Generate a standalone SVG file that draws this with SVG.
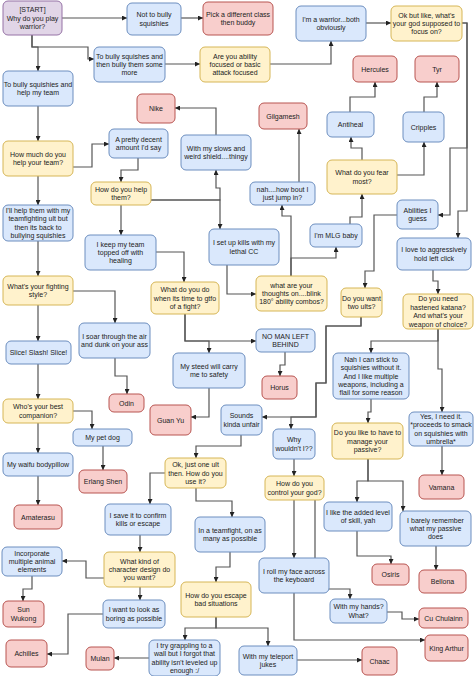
<svg xmlns="http://www.w3.org/2000/svg" width="474" height="676" viewBox="0 0 474 676">
<style>
rect{stroke-width:1}
.p{fill:#e1d5e7;stroke:#9673a6}
.b{fill:#dae8fc;stroke:#6c8ebf}
.y{fill:#fff2cc;stroke:#d6b656}
.r{fill:#f8cecc;stroke:#b85450}
text{font-family:"Liberation Sans",Arial,sans-serif;font-size:7px;fill:#222;text-anchor:middle}
#connectors polyline{fill:none;stroke:#555;stroke-width:1.2;marker-end:url(#ah)}
</style>
<defs>
<marker id="ah" viewBox="0 0 6 6" refX="6" refY="3" markerWidth="5" markerHeight="5" markerUnits="userSpaceOnUse" orient="auto"><path d="M0,0 L6,3 L0,6 z" fill="#222"/></marker>
</defs>
<rect width="474" height="676" fill="#fff"/>
<g id="connectors">
<polyline points="62,18 127,18"/>
<polyline points="181,18 203,18"/>
<polyline points="32,35 32,47 38,47 38,71"/>
<polyline points="32,35 32,47 88,47 88,59 94,59"/>
<polyline points="165,64 200,64"/>
<polyline points="270,64 331,64 331,41"/>
<polyline points="366,23 391,23"/>
<polyline points="462,23 467,23 467,148 450,148 450,215 438,215"/>
<polyline points="462,23 467,23 467,211 458,211 458,238"/>
<polyline points="397,215 374,215 374,271 365,271 365,288"/>
<polyline points="350,224 350,217 362,217 362,194"/>
<polyline points="362,160 362,148 351,148 351,137"/>
<polyline points="397,175 424,175 424,142"/>
<polyline points="350,112 350,97 375,97 375,82"/>
<polyline points="424,112 424,97 437,97 437,82"/>
<polyline points="433,270 433,281 438,281 438,294"/>
<polyline points="438,329 438,341 371,341 371,353"/>
<polyline points="438,329 438,369 442,369 442,412"/>
<polyline points="442,446 442,475"/>
<polyline points="371,399 371,412 368,412 368,423"/>
<polyline points="368,459 368,481 357,481 357,502"/>
<polyline points="368,459 368,481 403,481 403,511"/>
<polyline points="357,531 357,556 391,556 391,564"/>
<polyline points="436,546 436,570"/>
<polyline points="361,317 361,326 326,326 326,383 316,383 316,417 262,417"/>
<polyline points="361,317 361,326 326,326 326,383 316,383 316,417 291,417 291,429"/>
<polyline points="241,435 241,446 196,446 196,458"/>
<polyline points="294,459 294,476"/>
<polyline points="165,473 150,473 150,504"/>
<polyline points="196,488 196,501 232,501 232,517"/>
<polyline points="140,535 140,552"/>
<polyline points="104,578 86,578 86,561 62,561"/>
<polyline points="140,587 140,600"/>
<polyline points="32,576 32,589 23,589 23,601"/>
<polyline points="103,614 68,614 68,654 47,654"/>
<polyline points="230,552 230,567 216,567 216,582"/>
<polyline points="216,617 216,628 185,628 185,640"/>
<polyline points="216,617 216,628 268,628 268,646"/>
<polyline points="149,658 114,658"/>
<polyline points="297,660 362,660"/>
<polyline points="294,500 294,558"/>
<polyline points="315,500 315,589 350,589 350,599"/>
<polyline points="294,593 294,640 425,640"/>
<polyline points="387,612 402,612 402,619 419,619"/>
<polyline points="38,106 38,141"/>
<polyline points="73,167 92,167 92,144 109,144"/>
<polyline points="38,176 38,205"/>
<polyline points="138,158 138,170 121,170 121,182"/>
<polyline points="121,205 121,235"/>
<polyline points="151,200 220,200 220,229"/>
<polyline points="151,200 220,200 220,188 216,188 216,170"/>
<polyline points="216,135 216,108 175,108"/>
<polyline points="156,252 184,252 184,282"/>
<polyline points="227,265 227,294 256,294"/>
<polyline points="185,314 185,341 256,341"/>
<polyline points="185,314 185,341 209,341 209,353"/>
<polyline points="285,352 285,365 280,365 280,376"/>
<polyline points="209,388 209,417 191,417"/>
<polyline points="73,291 115,291 115,323"/>
<polyline points="38,305 38,341"/>
<polyline points="38,241 38,276"/>
<polyline points="115,358 115,376 127,376 127,394"/>
<polyline points="38,364 38,399"/>
<polyline points="73,411 92,411 92,429"/>
<polyline points="38,423 38,453"/>
<polyline points="103,446 103,470"/>
<polyline points="38,476 38,505"/>
<polyline points="299,182 299,129"/>
<polyline points="291,276 291,216 282,216 282,205"/>
<polyline points="291,276 291,258 336,258 336,247"/>
</g>
<g id="n1"><rect class="p" x="3" y="1" width="59" height="34" rx="5"/><text><tspan x="32.5" y="12.1">[START]</tspan><tspan x="32.5" y="20.5">Why do you play</tspan><tspan x="32.5" y="28.9">warrior?</tspan></text></g>
<g id="n2"><rect class="b" x="127" y="3" width="54" height="32" rx="5"/><text><tspan x="154" y="17.3">Not to bully</tspan><tspan x="154" y="25.7">squishies</tspan></text></g>
<g id="n3"><rect class="r" x="203" y="2" width="70" height="33" rx="5"/><text><tspan x="238" y="16.8">Pick a different class</tspan><tspan x="238" y="25.2">then buddy</tspan></text></g>
<g id="n4"><rect class="b" x="296" y="6" width="70" height="35" rx="5"/><text><tspan x="331" y="21.8">I'm a warrior...both</tspan><tspan x="331" y="30.2">obviously</tspan></text></g>
<g id="n5"><rect class="y" x="391" y="6" width="71" height="35" rx="5"/><text><tspan x="426.5" y="17.6">Ok but like, what's</tspan><tspan x="426.5" y="26">your god supposed to</tspan><tspan x="426.5" y="34.4">focus on?</tspan></text></g>
<g id="n6"><rect class="b" x="94" y="47" width="71" height="35" rx="5"/><text><tspan x="129.5" y="58.6">To bully squishes and</tspan><tspan x="129.5" y="67">then bully them some</tspan><tspan x="129.5" y="75.4">more</tspan></text></g>
<g id="n7"><rect class="y" x="200" y="47" width="70" height="35" rx="5"/><text><tspan x="235" y="58.6">Are you ability</tspan><tspan x="235" y="67">focused or basic</tspan><tspan x="235" y="75.4">attack focused</tspan></text></g>
<g id="n8"><rect class="b" x="3" y="71" width="70" height="35" rx="5"/><text><tspan x="38" y="86.8">To bully squishies and</tspan><tspan x="38" y="95.2">help my team</tspan></text></g>
<g id="n9"><rect class="r" x="137" y="94" width="38" height="29" rx="5"/><text x="156" y="111">Nike</text></g>
<g id="n10"><rect class="r" x="259" y="103" width="48" height="26" rx="5"/><text x="283" y="118.5">Gilgamesh</text></g>
<g id="n11"><rect class="r" x="353" y="56" width="44" height="26" rx="5"/><text x="375" y="71.5">Hercules</text></g>
<g id="n12"><rect class="r" x="415" y="56" width="44" height="26" rx="5"/><text x="437" y="71.5">Tyr</text></g>
<g id="n13"><rect class="b" x="327" y="112" width="47" height="25" rx="5"/><text x="350.5" y="127">Antiheal</text></g>
<g id="n14"><rect class="b" x="403" y="112" width="41" height="30" rx="5"/><text x="423.5" y="129.5">Cripples</text></g>
<g id="n15"><rect class="b" x="109" y="129" width="59" height="29" rx="5"/><text><tspan x="138.5" y="141.8">A pretty decent</tspan><tspan x="138.5" y="150.2">amount I'd say</tspan></text></g>
<g id="n16"><rect class="b" x="181" y="135" width="70" height="35" rx="5"/><text><tspan x="216" y="150.8">With my slows and</tspan><tspan x="216" y="159.2">weird shield....thingy</tspan></text></g>
<g id="n17"><rect class="y" x="3" y="141" width="70" height="35" rx="5"/><text><tspan x="38" y="156.8">How much do you</tspan><tspan x="38" y="165.2">help your team?</tspan></text></g>
<g id="n18"><rect class="y" x="327" y="160" width="70" height="34" rx="5"/><text><tspan x="362" y="175.3">What do you fear</tspan><tspan x="362" y="183.7">most?</tspan></text></g>
<g id="n19"><rect class="y" x="91" y="182" width="60" height="23" rx="5"/><text><tspan x="121" y="191.8">How do you help</tspan><tspan x="121" y="200.2">them?</tspan></text></g>
<g id="n20"><rect class="b" x="250" y="182" width="65" height="23" rx="5"/><text><tspan x="282.5" y="191.8">nah....how bout I</tspan><tspan x="282.5" y="200.2">just jump in?</tspan></text></g>
<g id="n21"><rect class="b" x="397" y="200" width="41" height="29" rx="5"/><text><tspan x="417.5" y="212.8">Abilities I</tspan><tspan x="417.5" y="221.2">guess</tspan></text></g>
<g id="n22"><rect class="b" x="310" y="224" width="52" height="23" rx="5"/><text x="336" y="238">I'm MLG baby</text></g>
<g id="n23"><rect class="b" x="3" y="205" width="70" height="36" rx="5"/><text><tspan x="38" y="212.9">I'll help them with my</tspan><tspan x="38" y="221.3">teamfighting ult but</tspan><tspan x="38" y="229.7">then its back to</tspan><tspan x="38" y="238.1">bullying squishies</tspan></text></g>
<g id="n24"><rect class="b" x="85" y="235" width="71" height="35" rx="5"/><text><tspan x="120.5" y="246.6">I keep my team</tspan><tspan x="120.5" y="255">topped off with</tspan><tspan x="120.5" y="263.4">healing</tspan></text></g>
<g id="n25"><rect class="b" x="209" y="229" width="70" height="36" rx="5"/><text><tspan x="244" y="245.3">I set up kills with my</tspan><tspan x="244" y="253.7">lethal CC</tspan></text></g>
<g id="n26"><rect class="b" x="397" y="238" width="74" height="32" rx="5"/><text><tspan x="434" y="252.3">I love to aggressively</tspan><tspan x="434" y="260.7">hold left click</tspan></text></g>
<g id="n27"><rect class="y" x="3" y="276" width="70" height="29" rx="5"/><text><tspan x="38" y="288.8">What's your fighting</tspan><tspan x="38" y="297.2">style?</tspan></text></g>
<g id="n28"><rect class="y" x="151" y="282" width="68" height="32" rx="5"/><text><tspan x="185" y="292.1">What do you do</tspan><tspan x="185" y="300.5">when its time to gtfo</tspan><tspan x="185" y="308.9">of a fight?</tspan></text></g>
<g id="n29"><rect class="y" x="256" y="276" width="71" height="35" rx="5"/><text><tspan x="291.5" y="287.6">what are your</tspan><tspan x="291.5" y="296">thoughts on....blink</tspan><tspan x="291.5" y="304.4">180° ability combos?</tspan></text></g>
<g id="n30"><rect class="y" x="341" y="288" width="41" height="29" rx="5"/><text><tspan x="361.5" y="300.8">Do you want</tspan><tspan x="361.5" y="309.2">two ults?</tspan></text></g>
<g id="n31"><rect class="y" x="403" y="294" width="70" height="35" rx="5"/><text><tspan x="438" y="301.4">Do you need</tspan><tspan x="438" y="309.8">hastened katana?</tspan><tspan x="438" y="318.2">And what's your</tspan><tspan x="438" y="326.6">weapon of choice?</tspan></text></g>
<g id="n32"><rect class="b" x="79" y="323" width="71" height="35" rx="5"/><text><tspan x="114.5" y="338.8">I soar through the air</tspan><tspan x="114.5" y="347.2">and dunk on your ass</tspan></text></g>
<g id="n33"><rect class="b" x="256" y="329" width="59" height="23" rx="5"/><text><tspan x="285.5" y="338.8">NO MAN LEFT</tspan><tspan x="285.5" y="347.2">BEHIND</tspan></text></g>
<g id="n34"><rect class="b" x="6" y="341" width="65" height="23" rx="5"/><text x="38.5" y="355">Slice! Slash! Slice!</text></g>
<g id="n35"><rect class="b" x="173" y="353" width="72" height="35" rx="5"/><text><tspan x="209" y="368.8">My steed will carry</tspan><tspan x="209" y="377.2">me to safety</tspan></text></g>
<g id="n36"><rect class="r" x="262" y="376" width="35" height="23" rx="5"/><text x="279.5" y="390">Horus</text></g>
<g id="n37"><rect class="b" x="333" y="353" width="76" height="46" rx="5"/><text><tspan x="371" y="361.7">Nah I can stick to</tspan><tspan x="371" y="370.1">squishies without it.</tspan><tspan x="371" y="378.5">And I like multiple</tspan><tspan x="371" y="386.9">weapons, including a</tspan><tspan x="371" y="395.3">flail for some reason</tspan></text></g>
<g id="n38"><rect class="r" x="109" y="394" width="35" height="18" rx="5"/><text x="126.5" y="405.5">Odin</text></g>
<g id="n39"><rect class="y" x="3" y="399" width="70" height="24" rx="5"/><text><tspan x="38" y="409.3">Who's your best</tspan><tspan x="38" y="417.7">companion?</tspan></text></g>
<g id="n40"><rect class="r" x="150" y="405" width="41" height="30" rx="5"/><text x="170.5" y="422.5">Guan Yu</text></g>
<g id="n41"><rect class="b" x="221" y="405" width="41" height="30" rx="5"/><text><tspan x="241.5" y="418.3">Sounds</tspan><tspan x="241.5" y="426.7">kinda unfair</tspan></text></g>
<g id="n42"><rect class="b" x="409" y="412" width="64" height="34" rx="5"/><text><tspan x="441" y="418.9">Yes, I need it.</tspan><tspan x="441" y="427.3">*proceeds to smack</tspan><tspan x="441" y="435.7">on squishies with</tspan><tspan x="441" y="444.1">umbrella*</tspan></text></g>
<g id="n43"><rect class="b" x="73" y="429" width="59" height="17" rx="5"/><text x="102.5" y="440">My pet dog</text></g>
<g id="n44"><rect class="b" x="273" y="429" width="42" height="30" rx="5"/><text><tspan x="294" y="442.3">Why</tspan><tspan x="294" y="450.7">wouldn't I??</tspan></text></g>
<g id="n45"><rect class="y" x="332" y="423" width="71" height="36" rx="5"/><text><tspan x="367.5" y="435.1">Do you like to have to</tspan><tspan x="367.5" y="443.5">manage your</tspan><tspan x="367.5" y="451.9">passive?</tspan></text></g>
<g id="n46"><rect class="b" x="3" y="453" width="70" height="23" rx="5"/><text x="38" y="467">My waifu bodypillow</text></g>
<g id="n47"><rect class="y" x="165" y="458" width="61" height="30" rx="5"/><text><tspan x="195.5" y="467.1">Ok, just one ult</tspan><tspan x="195.5" y="475.5">then. How do you</tspan><tspan x="195.5" y="483.9">use it?</tspan></text></g>
<g id="n48"><rect class="r" x="79" y="470" width="48" height="23" rx="5"/><text x="103" y="484">Erlang Shen</text></g>
<g id="n49"><rect class="y" x="265" y="476" width="59" height="24" rx="5"/><text><tspan x="294.5" y="486.3">How do you</tspan><tspan x="294.5" y="494.7">control your god?</tspan></text></g>
<g id="n50"><rect class="r" x="419" y="475" width="45" height="24" rx="5"/><text x="441.5" y="489.5">Vamana</text></g>
<g id="n51"><rect class="r" x="14" y="505" width="48" height="24" rx="5"/><text x="38" y="519.5">Amaterasu</text></g>
<g id="n52"><rect class="b" x="105" y="504" width="66" height="31" rx="5"/><text><tspan x="138" y="517.8">I save it to confirm</tspan><tspan x="138" y="526.2">kills or escape</tspan></text></g>
<g id="n53"><rect class="b" x="324" y="502" width="68" height="29" rx="5"/><text><tspan x="358" y="514.8">I like the added level</tspan><tspan x="358" y="523.2">of skill, yah</tspan></text></g>
<g id="n54"><rect class="b" x="400" y="511" width="71" height="35" rx="5"/><text><tspan x="435.5" y="522.6">I barely remember</tspan><tspan x="435.5" y="531">what my passive</tspan><tspan x="435.5" y="539.4">does</tspan></text></g>
<g id="n55"><rect class="b" x="195" y="517" width="70" height="35" rx="5"/><text><tspan x="230" y="532.8">In a teamfight, on as</tspan><tspan x="230" y="541.2">many as possible</tspan></text></g>
<g id="n56"><rect class="b" x="2" y="547" width="60" height="29" rx="5"/><text><tspan x="32" y="555.6">Incorporate</tspan><tspan x="32" y="564">multiple animal</tspan><tspan x="32" y="572.4">elements</tspan></text></g>
<g id="n57"><rect class="y" x="104" y="552" width="71" height="35" rx="5"/><text><tspan x="139.5" y="563.6">What kind of</tspan><tspan x="139.5" y="572">character design do</tspan><tspan x="139.5" y="580.4">you want?</tspan></text></g>
<g id="n58"><rect class="b" x="259" y="558" width="70" height="35" rx="5"/><text><tspan x="294" y="573.8">I roll my face across</tspan><tspan x="294" y="582.2">the keyboard</tspan></text></g>
<g id="n59"><rect class="r" x="372" y="564" width="37" height="21" rx="5"/><text x="390.5" y="577">Osiris</text></g>
<g id="n60"><rect class="r" x="419" y="570" width="47" height="23" rx="5"/><text x="442.5" y="584">Bellona</text></g>
<g id="n61"><rect class="y" x="181" y="582" width="70" height="35" rx="5"/><text><tspan x="216" y="597.8">How do you escape</tspan><tspan x="216" y="606.2">bad situations</tspan></text></g>
<g id="n62"><rect class="r" x="3" y="601" width="41" height="26" rx="5"/><text><tspan x="23.5" y="612.3">Sun</tspan><tspan x="23.5" y="620.7">Wukong</tspan></text></g>
<g id="n63"><rect class="b" x="103" y="600" width="62" height="28" rx="5"/><text><tspan x="134" y="612.3">I want to look as</tspan><tspan x="134" y="620.7">boring as possible</tspan></text></g>
<g id="n64"><rect class="b" x="330" y="599" width="57" height="24" rx="5"/><text><tspan x="358.5" y="609.3">With my hands?</tspan><tspan x="358.5" y="617.7">What?</tspan></text></g>
<g id="n65"><rect class="r" x="419" y="608" width="49" height="20" rx="5"/><text x="443.5" y="620.5">Cu Chulainn</text></g>
<g id="n66"><rect class="r" x="6" y="640" width="41" height="27" rx="5"/><text x="26.5" y="656">Achilles</text></g>
<g id="n67"><rect class="r" x="86" y="647" width="28" height="23" rx="5"/><text x="100" y="661">Mulan</text></g>
<g id="n68"><rect class="b" x="149" y="640" width="71" height="36" rx="5"/><text><tspan x="184.5" y="647.9">I try grappling to a</tspan><tspan x="184.5" y="656.3">wall but I forgot that</tspan><tspan x="184.5" y="664.7">ability isn't leveled up</tspan><tspan x="184.5" y="673.1">enough :/</tspan></text></g>
<g id="n69"><rect class="b" x="239" y="646" width="58" height="29" rx="5"/><text><tspan x="268" y="658.8">With my teleport</tspan><tspan x="268" y="667.2">jukes</tspan></text></g>
<g id="n70"><rect class="r" x="425" y="635" width="43" height="26" rx="5"/><text x="446.5" y="650.5">King Arthur</text></g>
<g id="n71"><rect class="r" x="362" y="647" width="35" height="28" rx="5"/><text x="379.5" y="663.5">Chaac</text></g>
</svg>
